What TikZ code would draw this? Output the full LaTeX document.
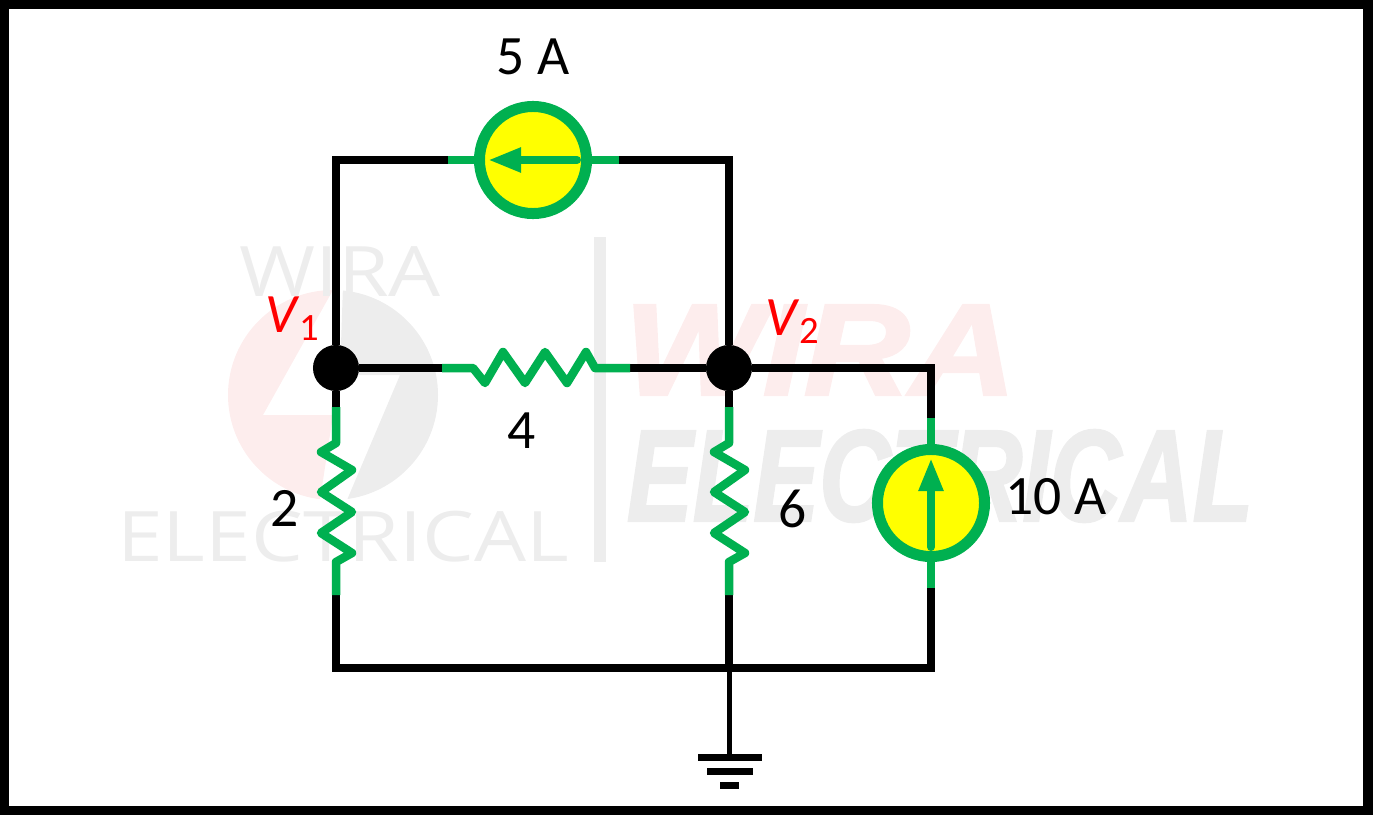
\documentclass[tikz,border=0pt]{standalone}
\usepackage{fontspec}
\usetikzlibrary{arrows.meta}
\setmainfont{Carlito}
\newfontfamily\markthin{Open Sans}
\newfontfamily\markbold[BoldItalicFeatures={FakeBold=2}]{Liberation Sans}
\definecolor{wiregreen}{HTML}{00B050}
\definecolor{srcyellow}{HTML}{FFFF00}
\definecolor{labred}{HTML}{FF0000}
\definecolor{markred}{HTML}{FDEDED}
\definecolor{markgray}{HTML}{EDEDED}
\tikzset{
	wirebk/.style={line width=.075cm, black},
	wiregr/.style={line width=.085cm, wiregreen, line join=round},
	gndbar/.style={line width=.07cm, black},
	junc/.style={circle, fill=black, minimum size=.46cm, inner sep=0pt, outer sep=0pt},
	src/.style={circle, draw=wiregreen, fill=srcyellow, line width=.11cm, minimum size=1.07cm, inner sep=0pt},
	srcarrow/.style={line width=.08cm, wiregreen, line cap=round, -{Triangle[length=.33cm, width=.23cm]}},
	lab/.style={font=\fontsize{15.8pt}{18pt}\selectfont, inner sep=0pt},
	marktext/.style={inner sep=0pt, text=markgray}
}
\begin{document}
\begin{tikzpicture}[x=.01cm, y=-.01cm]
	\useasboundingbox (0,0) rectangle (1373,815);
	% watermark
	\begin{scope}
		\clip (333,395) circle (105);
		\fill[markred] (333,290) -- (263,415) -- (333,415) -- (320,500) -- (200,500) -- (200,280) -- cycle;
		\fill[markgray] (343,285) -- (340,375) -- (400,375) -- (347,500) -- (440,500) -- (440,285) -- cycle;
	\end{scope}
	\node[marktext, font=\markthin\fontsize{19.8pt}{22pt}\selectfont, xscale=1.18] (markwira) at (340,272) {WIRA};
	\node[marktext, font=\markthin\fontsize{19.8pt}{22pt}\selectfont, xscale=1.18] (markelec) at (343,537) {ELECTRICAL};
	\fill[markgray] (594,237) rectangle (606,562);
	\node[marktext, text=markred, font=\markbold\bfseries\itshape\fontsize{37pt}{40pt}\selectfont, xscale=1.13] (bigwira) at (820,350) {WIRA};
	\node[marktext, font=\markbold\bfseries\itshape\fontsize{37pt}{40pt}\selectfont, xscale=.76] (bigelec) at (940,476) {ELECTRICAL};
	% frame
	\draw[line width=.095cm] (4.5,4) rectangle (1368,810.5);
	% nodes
	\node[junc] (v1) at (336,368) {};
	\node[junc] (v2) at (729,368) {};
	\node[src] (src5) at (533,160) {};
	\node[src] (src10) at (931,503) {};
	\coordinate (g5l) at (448,160);
	\coordinate (g5r) at (619,160);
	\coordinate (g10t) at (931,418);
	\coordinate (g10b) at (931,588);
	\coordinate (r4a) at (442,368);
	\coordinate (r4b) at (630,368);
	\coordinate (r2a) at (336,407);
	\coordinate (r2b) at (336,595);
	\coordinate (r6a) at (729,407);
	\coordinate (r6b) at (729,595);
	\coordinate (botl) at (336,668);
	\coordinate (botm) at (729,668);
	\coordinate (gnd) at (729,757);
	% black wires
	\draw[wirebk] (v1) |- (g5l);
	\draw[wirebk] (g5r) -| (v2);
	\draw[wirebk] (v1) -- (r4a);
	\draw[wirebk] (r4b) -- (v2);
	\draw[wirebk] (v1) -- (r2a);
	\draw[wirebk] (v2) -- (r6a);
	\draw[wirebk] (v2) -| (g10t);
	\draw[wirebk] (g10b) |- (botl) -- (r2b);
	\draw[wirebk] (botm) -- (r6b);
	\draw[line width=.05cm] (botm) -- (gnd);
	% green parts
	\draw[wiregr] (g5l) -- (src5);
	\draw[wiregr] (src5) -- (g5r);
	\draw[wiregr] (g10t) -- (src10);
	\draw[wiregr] (src10) -- (g10b);
	\draw[wiregr] (r4a) -- ++(31,0) -- ++(12,15) -- ++(18,-31) -- ++(22,31) -- ++(20,-31) -- ++(22,31) -- ++(19,-31) -- ++(9,16) -- (r4b);
	\draw[wiregr] (r2a) -- ++(0,36) -- ++(-15,9) -- ++(31,18) -- ++(-31,22) -- ++(31,20) -- ++(-31,21) -- ++(31,20) -- ++(-16,9) -- (r2b);
	\draw[wiregr] (r6a) -- ++(0,36) -- ++(-15,9) -- ++(31,18) -- ++(-31,22) -- ++(31,20) -- ++(-31,21) -- ++(31,20) -- ++(-16,9) -- (r6b);
	\coordinate (a5s) at (577,160);
	\coordinate (a5e) at (488,160);
	\coordinate (a10s) at (931,547);
	\coordinate (a10e) at (931,458);
	\draw[srcarrow] (a5s) -- (a5e);
	\draw[srcarrow] (a10s) -- (a10e);
	% ground
	\coordinate (gnda) at (698,757);
	\coordinate (gndb) at (762,757);
	\coordinate (gndc) at (707,771);
	\coordinate (gndd) at (753,771);
	\coordinate (gnde) at (720,785);
	\coordinate (gndf) at (739,785);
	\draw[gndbar] (gnda) -- (gndb);
	\draw[gndbar] (gndc) -- (gndd);
	\draw[gndbar] (gnde) -- (gndf);
	% labels
	\node[lab] (l5) at (533,57) {5 A};
	\node[lab] (l10) at (1056,497) {10 A};
	\node[lab] (l4) at (522,431) {4};
	\node[lab] (l2) at (285,508) {2};
	\node[lab] (l6) at (793,509) {6};
	\node[lab, text=labred] (lv1) at (292,319) {\textit{V}\raisebox{-.08cm}{\fontsize{11pt}{12pt}\selectfont 1}};
	\node[lab, text=labred] (lv2) at (792,322) {\textit{V}\raisebox{-.08cm}{\fontsize{11pt}{12pt}\selectfont 2}};
\end{tikzpicture}
\end{document}
